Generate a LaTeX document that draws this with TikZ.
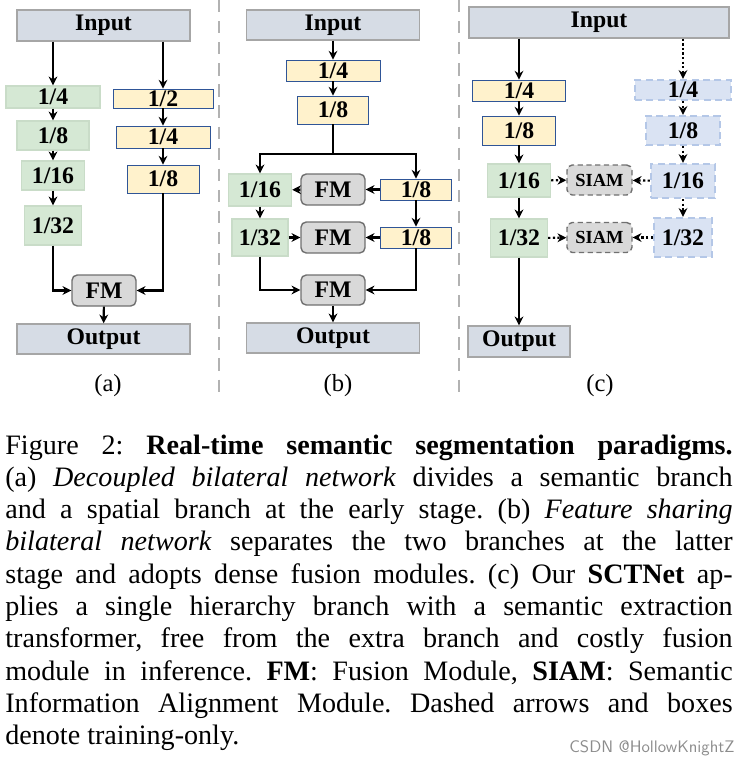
\documentclass[tikz,border=0pt]{standalone}
\usepackage{fontspec}
\setmainfont{Liberation Serif}
\usetikzlibrary{arrows.meta}
\definecolor{inFill}{HTML}{D6DCE5}
\definecolor{inDraw}{HTML}{A6A6A6}
\definecolor{grFill}{HTML}{D5E8D4}
\definecolor{grDraw}{HTML}{C9DCC8}
\definecolor{yeFill}{HTML}{FFF2CC}
\definecolor{yeDraw}{HTML}{2F5597}
\definecolor{fmFill}{HTML}{D9D9D9}
\definecolor{fmDraw}{HTML}{707070}
\definecolor{blFill}{HTML}{DAE3F3}
\definecolor{blDraw}{HTML}{B4C7E7}
\newcommand{\capfont}{\fontsize{16}{17}\selectfont\frenchspacing}
\tikzset{
  bx/.style 2 args={minimum width=#1*0.02cm, minimum height=#2*0.02cm, inner sep=0pt, font=\fontsize{13.5}{14}\selectfont\bfseries},
  inb/.style={rectangle, fill=inFill, draw=inDraw, thick},
  grb/.style={rectangle, fill=grFill, draw=grDraw, thick},
  yeb/.style={rectangle, fill=yeFill, draw=yeDraw},
  fmb/.style={rectangle, rounded corners=3pt, fill=fmFill, draw=fmDraw, thick},
  blb/.style={rectangle, fill=blFill, draw=blDraw, line width=1.3pt, dash pattern=on 4pt off 2.5pt},
  siam/.style={rectangle, rounded corners=3pt, fill=fmFill, draw=fmDraw, thick, dash pattern=on 3pt off 2pt},
  arr/.style={line width=1.2pt, -{Stealth[length=5pt,width=5pt]}},
  darr/.style={arr, dash pattern=on 1.3pt off 1.3pt},
  sep/.style={draw=black!30, line width=1.6pt, dash pattern=on 7pt off 5pt},
  capl/.style={anchor=base west, inner sep=0pt, text width=414pt, align=justify, font={\capfont\parfillskip=0pt}},
  sub/.style={font=\fontsize{14}{15}\selectfont}
}
\begin{document}
\begin{tikzpicture}[x=0.02cm, y=-0.02cm]
\useasboundingbox (0,0) rectangle (745,769);

% separators
\draw[sep] (219,0) -- (219,400);
\draw[sep] (459,0) -- (459,400);

% (a) decoupled bilateral network
\node[inb, bx={173}{31}] (inA) at (103.5,25.5) {Input};
\node[grb, bx={94}{22}] (a4) at (53,97) {1/4};
\node[grb, bx={72}{29}] (a8) at (53,135.5) {1/8};
\node[grb, bx={63}{29}] (a16) at (53,175.5) {1/16};
\node[grb, bx={57}{39}] (a32) at (53,225.5) {1/32};
\node[yeb, bx={100}{19}] (a2y) at (163,98.5) {1/2};
\node[yeb, bx={94}{22}] (a4y) at (163,137) {1/4};
\node[yeb, bx={72}{28}] (a8y) at (163,179) {1/8};
\node[fmb, bx={64}{31}] (aFM) at (104,290.5) {FM};
\node[inb, bx={173}{30}] (aOut) at (103.5,339) {Output};
\node[sub] (la) at (108,386) {(a)};

\draw[arr] (inA.south -| a4.north) -- (a4.north);
\draw[arr] (a4) -- (a8);
\draw[arr] (a8) -- (a16);
\draw[arr] (a16) -- (a32);
\draw[arr] (inA.south -| a2y.north) -- (a2y.north);
\draw[arr] (a2y) -- (a4y);
\draw[arr] (a4y) -- (a8y);
\draw[arr] (a32.south) |- (aFM.west);
\draw[arr] (a8y.south) |- (aFM.east);
\draw[arr] (aFM) -- (aOut);

% (b) feature sharing bilateral network
\node[inb, bx={173}{30}] (inB) at (333,25) {Input};
\node[yeb, bx={94}{21}] (b4) at (333,70.5) {1/4};
\node[yeb, bx={71}{28}] (b8) at (333,110) {1/8};
\node[grb, bx={63}{32}] (b16) at (260,190) {1/16};
\node[grb, bx={56}{37}] (b32) at (260,237.5) {1/32};
\node[yeb, bx={71}{21}] (by1) at (416,189.5) {1/8};
\node[yeb, bx={71}{21}] (by2) at (416,237.5) {1/8};
\node[fmb, bx={64}{31}] (bF1) at (333,189.5) {FM};
\node[fmb, bx={64}{31}] (bF2) at (333,237.5) {FM};
\node[fmb, bx={64}{30}] (bF3) at (333,290) {FM};
\node[inb, bx={173}{30}] (bOut) at (333,338) {Output};
\node[sub] (lb) at (338,386) {(b)};
\coordinate (bsplit) at (333,154);

\draw[arr] (inB) -- (b4);
\draw[arr] (b4) -- (b8);
\draw[line width=1.2pt] (b8.south) -- (bsplit);
\draw[arr] (bsplit) -| (b16.north);
\draw[arr] (bsplit) -| (by1.north);
\draw[arr] (bF1) -- (b16);
\draw[arr] (by1) -- (bF1);
\draw[arr] (b16) -- (b32);
\draw[arr] (by1) -- (by2);
\draw[arr] (b32) -- (bF2);
\draw[arr] (by2) -- (bF2);
\draw[arr] (b32.south) |- (bF3.west);
\draw[arr] (by2.south) |- (bF3.east);
\draw[arr] (bF3) -- (bOut);

% (c) SCTNet
\node[inb, bx={260}{31}] (inC) at (599,22.5) {Input};
\node[yeb, bx={93}{21}] (c4) at (519,90.5) {1/4};
\node[yeb, bx={73}{29}] (c8) at (519,130.5) {1/8};
\node[grb, bx={63}{33}] (c16) at (519,180.5) {1/16};
\node[grb, bx={57}{38}] (c32) at (519,238) {1/32};
\node[inb, bx={102}{31}] (cOut) at (519,341.5) {Output};
\node[blb, bx={96}{20}] (d4) at (683,90) {1/4};
\node[blb, bx={74}{29}] (d8) at (683,130.5) {1/8};
\node[blb, bx={64}{34}] (d16) at (683,181) {1/16};
\node[blb, bx={58}{39}] (d32) at (683,237.5) {1/32};
\node[siam, bx={65}{30}, font=\fontsize{10.5}{11}\selectfont\bfseries] (s1) at (599.5,180) {SIAM};
\node[siam, bx={65}{30}, font=\fontsize{10.5}{11}\selectfont\bfseries] (s2) at (599.5,237.5) {SIAM};
\node[sub] (lc) at (600,386) {(c)};

\draw[arr] (inC.south -| c4.north) -- (c4.north);
\draw[arr] (c4) -- (c8);
\draw[arr] (c8) -- (c16);
\draw[arr] (c16) -- (c32);
\draw[arr] (c32) -- (cOut);
\draw[darr] (inC.south -| d4.north) -- (d4.north);
\draw[darr] (d4) -- (d8);
\draw[darr] (d8) -- (d16);
\draw[darr] (d16) -- (d32);
\draw[darr] (c16) -- (s1);
\draw[darr] (d16) -- (s1);
\draw[darr] (c32) -- (s2);
\draw[darr] (d32) -- (s2);

% caption
\node[capl] (l1) at (5,454) {Figure 2: \textbf{Real-time semantic segmentation paradigms.}};
\node[capl] (l2) at (5,486.3) {(a) \textit{Decoupled bilateral network} divides a semantic branch};
\node[capl] (l3) at (5,518.6) {and a spatial branch at the early stage. (b) \textit{Feature sharing}};
\node[capl] (l4) at (5,550.9) {\textit{bilateral network} separates the two branches at the latter};
\node[capl] (l5) at (5,583.2) {stage and adopts dense fusion modules. (c) Our \textbf{SCTNet} ap-};
\node[capl] (l6) at (5,615.5) {plies a single hierarchy branch with a semantic extraction};
\node[capl] (l7) at (5,647.8) {transformer, free from the extra branch and costly fusion};
\node[capl] (l8) at (5,680.1) {module in inference. \textbf{FM}: Fusion Module, \textbf{SIAM}: Semantic};
\node[capl] (l9) at (5,712.4) {Information Alignment Module. Dashed arrows and boxes};
\node[anchor=base west, inner sep=0pt, font=\capfont] (l10) at (5,744.7) {denote training-only.};
\node[anchor=base east, inner sep=0pt, text=black!45, font=\fontfamily{lmss}\fontsize{9.5}{10}\selectfont] (wm) at (735,752) {CSDN @HollowKnightZ};
\end{tikzpicture}
\end{document}
